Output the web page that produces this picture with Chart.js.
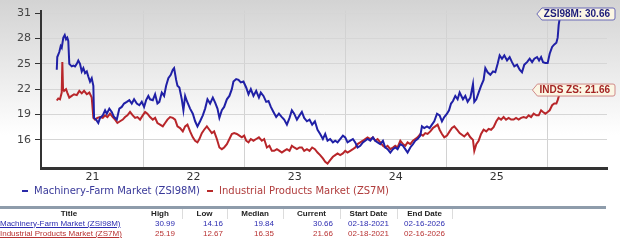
<!DOCTYPE html>
<html>
<head>
<meta charset="utf-8">
<script src="https://cdn.jsdelivr.net/npm/chart.js@4.4.1/dist/chart.umd.min.js"></script>
<style>
  html, body { margin: 0; padding: 0; background: #fff; }
  #wrap { position: relative; width: 620px; height: 246px; overflow: hidden; font-family: "DejaVu Sans", sans-serif; }
  #chart { position: absolute; left: 0; top: 0; }
  .legend { position: absolute; top: 184px; font-size: 10px; line-height: 13px; white-space: nowrap; }
  .legend i { display: inline-block; width: 6px; height: 2px; vertical-align: middle; margin-right: 6px; }
  .rule { position: absolute; left: 0; top: 206px; width: 606px; height: 3px; background: #8e9cab; }
  .cell { position: absolute; font-family: "Liberation Sans", Arial, sans-serif; font-size: 8px; line-height: 10px; white-space: nowrap; }
  .head { font-weight: bold; color: #222; text-align: center; top: 209px; }
  .sep { position: absolute; top: 209px; width: 1px; height: 10px; background: #dcdcdc; }
</style>
</head>
<body>
<div id="wrap">
  <canvas id="chart" width="620" height="185"></canvas>
  <div class="legend" style="left:22px;color:#3a3a9a"><i style="background:#2a2aa8"></i>Machinery-Farm Market (ZSI98M)</div>
  <div class="legend" style="left:207px;color:#b03c3c"><i style="background:#b82a2a"></i>Industrial Products Market (ZS7M)</div>
  <div class="rule"></div>
  <div id="table"></div>
</div>
<script>
// ---- data (x = year, two digits + fraction) ----
const blueX = [21.146,21.151,21.171,21.185,21.195,21.211,21.225,21.238,21.250,21.260,
  21.270,21.294,21.310,21.327,21.344,21.359,21.376,21.393,21.409,21.426,
  21.443,21.458,21.475,21.492,21.508,21.515,21.535,21.557,21.574,21.601,
  21.624,21.641,21.666,21.690,21.713,21.740,21.765,21.789,21.812,21.839,
  21.864,21.888,21.911,21.938,21.963,21.987,22.010,22.030,22.052,22.069,
  22.096,22.119,22.142,22.161,22.185,22.208,22.228,22.250,22.274,22.294,
  22.307,22.327,22.340,22.359,22.383,22.399,22.416,22.433,22.465,22.492,
  22.515,22.538,22.564,22.591,22.614,22.637,22.663,22.690,22.713,22.736,
  22.755,22.779,22.802,22.829,22.854,22.878,22.894,22.921,22.944,22.967,
  22.993,23.020,23.043,23.066,23.092,23.119,23.146,23.165,23.191,23.218,
  23.241,23.264,23.290,23.317,23.344,23.373,23.396,23.423,23.449,23.472,
  23.495,23.522,23.548,23.571,23.594,23.621,23.647,23.673,23.700,23.726,
  23.752,23.779,23.802,23.825,23.851,23.878,23.901,23.924,23.950,23.977,
  24.000,24.023,24.050,24.076,24.099,24.122,24.149,24.175,24.198,24.221,
  24.248,24.274,24.297,24.320,24.347,24.373,24.396,24.419,24.446,24.472,
  24.495,24.518,24.545,24.571,24.594,24.617,24.644,24.670,24.693,24.716,
  24.743,24.759,24.782,24.809,24.835,24.858,24.881,24.908,24.934,24.957,
  24.980,25.007,25.027,25.047,25.066,25.089,25.112,25.132,25.165,25.188,
  25.211,25.238,25.264,25.277,25.297,25.320,25.344,25.369,25.386,25.409,
  25.436,25.462,25.485,25.508,25.528,25.551,25.574,25.601,25.627,25.650,
  25.673,25.700,25.726,25.749,25.772,25.799,25.825,25.849,25.871,25.898,
  25.918,25.938,25.957,25.980,26.003,26.023,26.047,26.069,26.089,26.102,
  26.112,26.126];
const blueY = [24.3,25.8,26.4,27.1,26.9,28.1,28.4,27.9,28.1,27.7,
  25.0,24.7,24.8,24.7,25.0,25.4,25.0,24.1,24.5,23.9,
  24.1,23.5,22.9,23.3,22.4,18.6,18.4,18.0,18.6,18.9,
  19.5,19.1,19.7,19.3,18.7,18.4,19.7,19.9,20.3,20.5,
  20.7,20.3,20.8,20.3,20.1,20.5,19.9,20.7,21.2,20.8,
  20.7,21.4,20.3,20.5,21.6,21.2,22.4,23.3,23.7,24.3,
  24.5,23.1,22.4,22.2,20.8,19.5,21.2,20.6,19.7,19.1,
  18.2,17.6,18.2,18.9,19.7,20.8,20.3,21.0,20.4,19.7,
  18.6,19.5,19.9,20.8,21.2,22.0,22.9,23.2,23.1,22.8,
  22.9,22.2,21.4,22.0,21.2,21.8,21.0,21.6,21.2,20.5,
  20.6,19.9,19.3,18.7,19.1,18.7,18.4,17.8,18.6,19.5,
  19.1,18.4,18.9,19.3,18.6,18.2,18.4,17.8,18.2,17.2,
  16.7,16.1,16.7,15.9,16.1,15.7,15.9,15.7,16.1,16.5,
  16.3,15.7,15.9,16.1,15.7,15.1,15.3,15.7,15.9,16.1,
  15.9,16.3,15.9,15.7,15.5,15.9,15.1,14.9,14.5,14.9,
  15.1,14.9,15.5,15.3,14.9,14.5,15.1,15.5,15.9,16.1,
  16.5,17.6,17.4,17.6,17.4,17.8,18.2,19.1,18.9,18.2,
  18.7,19.1,19.5,20.3,20.6,21.2,20.8,21.6,20.8,21.2,
  20.5,21.0,22.6,20.5,20.8,21.6,22.4,23.1,24.5,24.0,
  23.7,24.1,24.0,25.0,26.0,25.6,26.0,25.4,25.8,25.2,
  24.7,24.9,24.3,24.0,24.9,25.2,25.6,25.2,25.6,25.8,
  25.4,25.8,25.2,25.1,25.1,26.2,27.0,27.3,27.5,28.1,
  29.6,30.66];

const redX = [21.146,21.161,21.178,21.195,21.201,21.208,21.218,21.238,21.250,21.270,
  21.294,21.317,21.344,21.369,21.393,21.416,21.443,21.468,21.492,21.508,
  21.525,21.548,21.574,21.601,21.624,21.647,21.673,21.700,21.723,21.746,
  21.772,21.799,21.822,21.845,21.871,21.898,21.921,21.944,21.970,21.997,
  22.020,22.043,22.069,22.096,22.119,22.142,22.168,22.195,22.218,22.241,
  22.267,22.294,22.317,22.340,22.366,22.393,22.416,22.439,22.465,22.492,
  22.515,22.538,22.557,22.581,22.604,22.631,22.656,22.680,22.703,22.730,
  22.755,22.779,22.802,22.829,22.854,22.878,22.901,22.928,22.953,22.977,
  23.000,23.020,23.043,23.066,23.092,23.119,23.146,23.175,23.198,23.225,
  23.250,23.274,23.297,23.324,23.350,23.373,23.396,23.423,23.449,23.472,
  23.495,23.522,23.548,23.571,23.594,23.621,23.647,23.673,23.700,23.726,
  23.752,23.779,23.802,23.825,23.851,23.878,23.901,23.924,23.950,23.977,
  24.000,24.023,24.050,24.076,24.099,24.122,24.149,24.175,24.198,24.221,
  24.248,24.274,24.297,24.320,24.347,24.373,24.396,24.419,24.446,24.472,
  24.495,24.518,24.545,24.571,24.594,24.617,24.644,24.670,24.693,24.716,
  24.743,24.769,24.792,24.815,24.842,24.868,24.891,24.914,24.934,24.957,
  24.980,25.007,25.033,25.056,25.079,25.106,25.132,25.178,25.211,25.238,
  25.264,25.277,25.297,25.320,25.344,25.369,25.396,25.419,25.443,25.468,
  25.495,25.518,25.542,25.567,25.591,25.617,25.641,25.666,25.690,25.716,
  25.740,25.765,25.792,25.815,25.839,25.864,25.891,25.914,25.938,25.957,
  25.980,26.003,26.023,26.047,26.069,26.089,26.102,26.126];
const redY = [20.66,20.9,20.8,21.6,25.2,22.0,21.8,22.0,21.6,21.0,
  21.2,21.4,21.3,21.8,21.5,21.8,21.4,21.6,21.0,18.6,
  18.4,18.6,18.7,18.6,18.9,18.7,19.1,18.7,18.4,18.0,
  18.2,18.4,18.7,18.9,19.3,18.9,18.6,18.7,18.4,18.9,
  19.3,19.1,18.7,18.4,18.6,18.0,17.8,17.6,18.0,18.4,
  18.7,18.6,18.4,17.6,17.4,17.0,17.6,17.8,17.0,16.3,
  15.9,15.7,16.1,16.8,17.2,17.6,17.2,16.8,17.0,16.1,
  15.1,14.9,15.1,15.5,16.1,16.7,16.8,16.7,16.5,16.3,
  16.5,15.9,15.7,16.1,15.9,16.1,16.3,15.9,16.1,15.1,
  15.3,14.7,14.7,14.9,14.7,14.5,14.7,14.9,14.7,15.3,
  15.1,14.9,15.1,15.1,14.7,14.9,14.7,15.1,14.9,14.5,
  14.2,13.8,13.4,13.2,13.6,14.0,14.2,14.4,14.2,14.4,
  14.7,14.5,14.7,14.9,15.1,15.5,15.7,15.9,16.1,16.3,
  16.1,16.3,15.9,16.1,15.7,15.3,15.1,15.3,14.9,15.1,
  15.3,15.1,15.9,15.5,15.3,15.7,15.5,15.9,16.1,16.3,
  16.7,16.5,16.8,16.7,17.0,17.4,17.6,17.8,17.2,16.7,
  16.3,16.5,17.0,17.4,17.6,17.2,16.8,16.4,16.8,16.3,
  16.0,14.7,15.5,15.9,16.7,17.2,17.0,17.3,17.2,17.5,
  18.2,18.6,18.4,18.7,18.4,18.6,18.4,18.4,18.6,18.4,
  18.6,18.7,18.6,18.9,18.7,19.1,18.9,18.9,19.5,19.3,
  19.1,19.3,19.5,20.1,20.3,20.3,20.7,21.66];

const seriesTags = ['ZSI98M: 30.66', 'INDS ZS: 21.66'];
const xTicks = [21.5, 22, 22.5, 23, 23.5, 24, 24.5, 25, 25.5, 26];
const yTicks = [16, 19, 22, 25, 28, 31];

const tableHeaders = ['Title', 'High', 'Low', 'Median', 'Current', 'Start Date', 'End Date'];
const tableRows = [
  ['Machinery-Farm Market (ZSI98M)', '30.99', '14.16', '19.84', '30.66', '02-18-2021', '02-16-2026'],
  ['Industrial Products Market (ZS7M)', '25.19', '12.67', '16.35', '21.66', '02-18-2021', '02-16-2026']
];

const lineColors = ['#2020a6', '#b8262a'];
const rowColors = ['#2b2bb0', '#b83232'];

// ---- stats table ----
(function() {
    const box = document.getElementById('table');
    const colEdges = [0, 138, 182, 227, 283, 340, 397, 452];
    const rightEdges = [null, 175, 223, 274, 333];

    tableHeaders.forEach((h, i) => {
        const d = document.createElement('div');
        d.className = 'cell head';
        d.style.left = colEdges[i] + 'px';
        d.style.width = (colEdges[i + 1] - colEdges[i]) + 'px';
        d.textContent = h;
        box.appendChild(d);
        if (i > 0) {
            const s = document.createElement('div');
            s.className = 'sep';
            s.style.left = colEdges[i + 1] + 'px';
            box.appendChild(s);
        }
    });

    tableRows.forEach((row, r) => {
        const top = 218.5 + r * 10;
        row.forEach((txt, i) => {
            const d = document.createElement('div');
            d.className = 'cell';
            d.style.top = top + 'px';
            d.style.color = rowColors[r];
            d.textContent = txt;
            if (i === 0) {
                d.style.left = '0px';
                d.style.textDecoration = 'underline';
            } else if (i <= 4) {
                d.style.left = (rightEdges[i] - 60) + 'px';
                d.style.width = '60px';
                d.style.textAlign = 'right';
            } else {
                d.style.left = colEdges[i] + 'px';
                d.style.width = (colEdges[i + 1] - colEdges[i]) + 'px';
                d.style.textAlign = 'center';
            }
            box.appendChild(d);
        });
    });
})();

// ---- chart ----
const bgPlugin = {
    id: 'bg',
    beforeDraw(chart) {
        const ctx = chart.ctx;
        const g = ctx.createLinearGradient(0, 0, 0, 135);
        g.addColorStop(0, '#d3d3d3');
        g.addColorStop(1, '#ffffff');
        ctx.save();
        ctx.fillStyle = g;
        ctx.fillRect(0, 0, chart.width, chart.height);
        ctx.restore();
    }
};

const tagPlugin = {
    id: 'tags',
    afterDatasetsDraw(chart) {
        const ctx = chart.ctx;
        const ys = chart.scales.y;
        ctx.save();
        ctx.font = 'bold 10px "Liberation Sans", Arial, sans-serif';
        seriesTags.forEach((txt, i) => {
            const pts = chart.data.datasets[i].data;
            const cy = Math.max(ys.getPixelForValue(pts[pts.length - 1].y) - 2, 9);
            const w = ctx.measureText(txt).width + 12;
            const right = 615, left = right - w, h = 12;
            const top = cy - h / 2;
            ctx.beginPath();
            ctx.moveTo(left, cy);
            ctx.lineTo(left + 5, top);
            ctx.lineTo(right - 2, top);
            ctx.quadraticCurveTo(right, top, right, top + 2);
            ctx.lineTo(right, top + h - 2);
            ctx.quadraticCurveTo(right, top + h, right - 2, top + h);
            ctx.lineTo(left + 5, top + h);
            ctx.closePath();
            ctx.fillStyle = '#fbf6e4';
            ctx.fill();
            ctx.lineWidth = 1;
            ctx.strokeStyle = i === 0 ? '#6a6ab8' : '#d08a8a';
            ctx.stroke();
            ctx.fillStyle = i === 0 ? '#1c1c7a' : '#a42424';
            ctx.textBaseline = 'middle';
            ctx.fillText(txt, left + 7, cy + 0.5);
        });
        ctx.restore();
    }
};

const toPoints = (xs, ys) => xs.map((x, i) => ({ x: x, y: ys[i] }));

new Chart(document.getElementById('chart'), {
    type: 'line',
    data: {
        datasets: [
            { data: toPoints(blueX, blueY), borderColor: lineColors[0], borderWidth: 2, pointRadius: 0, tension: 0 },
            { data: toPoints(redX, redY), borderColor: lineColors[1], borderWidth: 2, pointRadius: 0, tension: 0 }
        ]
    },
    options: {
        responsive: false,
        animation: false,
        layout: { padding: { top: 5, right: 13, left: 0, bottom: 0 } },
        plugins: { legend: { display: false }, tooltip: { enabled: false } },
        scales: {
            x: {
                type: 'linear',
                min: 20.99,
                max: 26.59,
                afterBuildTicks(s) { s.ticks = xTicks.map(v => ({ value: v })); },
                afterFit(s) { s.height = 17; },
                grid: {
                    color(c) {
                        return c.tick && Number.isInteger(c.tick.value) ? '#d2d2d2' : 'rgba(0,0,0,0)';
                    },
                    drawTicks: false
                },
                border: { color: '#333', width: 3 },
                ticks: {
                    autoSkip: false,
                    maxRotation: 0,
                    padding: 3,
                    color: '#333',
                    font: { family: 'DejaVu Sans', size: 11 },
                    callback(v) { return Number.isInteger(v) ? '' : String(Math.floor(v)); }
                }
            },
            y: {
                min: 12.67,
                max: 31.3,
                afterBuildTicks(s) { s.ticks = yTicks.map(v => ({ value: v })); },
                afterFit(s) { s.width = 41; },
                grid: { color: '#d6d6d6', tickColor: '#333', tickLength: 6 },
                border: { color: '#333', width: 2 },
                ticks: {
                    padding: 4,
                    color: '#444',
                    font: { family: 'DejaVu Sans', size: 11 }
                }
            }
        }
    },
    plugins: [bgPlugin, tagPlugin]
});
</script>
</body>
</html>
